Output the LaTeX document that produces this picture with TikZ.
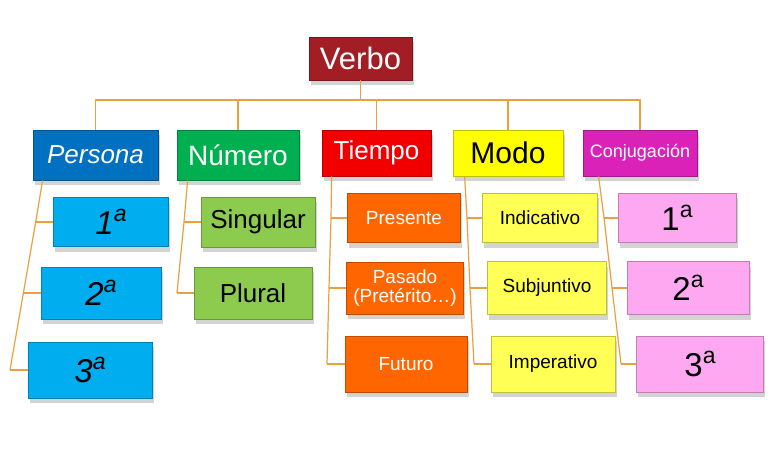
\documentclass[tikz,border=0pt]{standalone}
\usepackage{fontspec}
\setmainfont{Liberation Sans}
\usetikzlibrary{shadows}

\definecolor{verbored}{HTML}{A31D25}
\definecolor{personablue}{HTML}{0070C0}
\definecolor{numerogreen}{HTML}{00B050}
\definecolor{tiempored}{HTML}{F20000}
\definecolor{modoyellow}{HTML}{FFFF00}
\definecolor{conjmagenta}{HTML}{DA22B8}
\definecolor{personaleaf}{HTML}{00ADEF}
\definecolor{numeroleaf}{HTML}{8DCB4F}
\definecolor{tiempoleaf}{HTML}{FF6600}
\definecolor{modoleaf}{HTML}{FFFF55}
\definecolor{conjleaf}{HTML}{FFA8F2}
\definecolor{linkorange}{HTML}{E8A040}

\newcommand\fsz[1]{\fontsize{#1pt}{#1pt}\selectfont}
\newcommand\ordsup{\raisebox{12.5pt}{\fsz{23}a}}

\begin{document}
\begin{tikzpicture}[x=1pt,y=-1pt,
    link/.style={draw=linkorange,line width=1.2pt},
    box/.style={rectangle,inner sep=0pt,align=center,line width=0.8pt,
      fill=#1,draw=#1!75!black,
      drop shadow={shadow xshift=1.5pt,shadow yshift=-5pt,opacity=0.35}},
    boxsize/.style 2 args={minimum width=#1pt,minimum height=#2pt}]
  \useasboundingbox (0,0) rectangle (770,462);

  % top
  \node[box=verbored,boxsize={103}{43},text=white,font=\fsz{31}] (verbo) at (360.5,58.5) {Verbo};

  % first level
  \node[box=personablue,boxsize={125}{50},text=white,font=\fsz{26}\itshape] (persona) at (95.5,155) {Persona};
  \node[box=numerogreen,boxsize={122}{50},text=white,font=\fsz{28}] (numero) at (238,155) {Número};
  \node[box=tiempored,boxsize={109}{46},text=white,font=\fsz{26}] (tiempo) at (376.5,153) {Tiempo};
  \node[box=modoyellow,boxsize={110}{46},text=black,font=\fsz{30}] (modo) at (508,153) {Modo};
  \node[box=conjmagenta,boxsize={114}{46},text=white,font=\fsz{18}] (conj) at (640,153) {Conjugación};

  % second level
  \node[box=personaleaf,boxsize={115}{49},font=\fsz{33}\itshape] (p1) at (111,222) {1\ordsup};
  \node[box=personaleaf,boxsize={120}{52},font=\fsz{33}\itshape] (p2) at (101,293) {2\ordsup};
  \node[box=personaleaf,boxsize={124}{56},font=\fsz{33}\itshape] (p3) at (90,370) {3\ordsup};

  \node[box=numeroleaf,boxsize={114}{50},font=\fsz{26}] (n1) at (258,222) {Singular};
  \node[box=numeroleaf,boxsize={118}{52},font=\fsz{26}] (n2) at (253,293) {Plural};

  \node[box=tiempoleaf,boxsize={113}{49},text=white,font=\fsz{19}] (t1) at (404,218) {Presente};
  \node[box=tiempoleaf,boxsize={117}{52},text=white,font=\fsz{19}] (t2) at (405,288) {Pasado\\(Pretérito…)};
  \node[box=tiempoleaf,boxsize={122}{56},text=white,font=\fsz{19}] (t3) at (406,364) {Futuro};

  \node[box=modoleaf,boxsize={115}{49},font=\fsz{19}] (m1) at (540,218) {Indicativo};
  \node[box=modoleaf,boxsize={119}{53},font=\fsz{19}] (m2) at (547,288) {Subjuntivo};
  \node[box=modoleaf,boxsize={124}{56},font=\fsz{19}] (m3) at (553,364) {Imperativo};

  \node[box=conjleaf,boxsize={118}{49},font=\fsz{33}] (c1) at (677,218) {1\ordsup};
  \node[box=conjleaf,boxsize={122}{53},font=\fsz{33}] (c2) at (688,288) {2\ordsup};
  \node[box=conjleaf,boxsize={127}{56},font=\fsz{33}] (c3) at (700,364) {3\ordsup};

  % bus
  \coordinate (hub) at (360.5,100);
  \draw[link] (verbo) -- (hub);
  \foreach \n in {persona,numero,tiempo,modo,conj}
    \draw[link] (hub) -| (\n);

  % branches
  \coordinate (ps1) at (35.7,222);
  \coordinate (ps2) at (23.4,293);
  \coordinate (ps3) at (10,370);
  \draw[link] ([xshift=10pt]persona.south west) -- (ps1) -- (ps2) -- (ps3);

  \coordinate (ns1) at (184,222);
  \coordinate (ns2) at (177,293);
  \draw[link] ([xshift=11pt]numero.south west) -- (ns1) -- (ns2);

  \coordinate (ts1) at (331,218);
  \coordinate (ts2) at (329,288);
  \coordinate (ts3) at (327,364);
  \draw[link] ([xshift=10pt]tiempo.south west) -- (ts1) -- (ts2) -- (ts3);

  \coordinate (ms1) at (467,218);
  \coordinate (ms2) at (470,288);
  \coordinate (ms3) at (474,364);
  \draw[link] ([xshift=12pt]modo.south west) -- (ms1) -- (ms2) -- (ms3);

  \coordinate (cs1) at (604,218);
  \coordinate (cs2) at (612,288);
  \coordinate (cs3) at (621,364);
  \draw[link] ([xshift=16pt]conj.south west) -- (cs1) -- (cs2) -- (cs3);

  \foreach \g/\k in {p/1,p/2,p/3,n/1,n/2,t/1,t/2,t/3,m/1,m/2,m/3,c/1,c/2,c/3}
    \draw[link] (\g s\k) -- (\g\k);
\end{tikzpicture}
\end{document}
